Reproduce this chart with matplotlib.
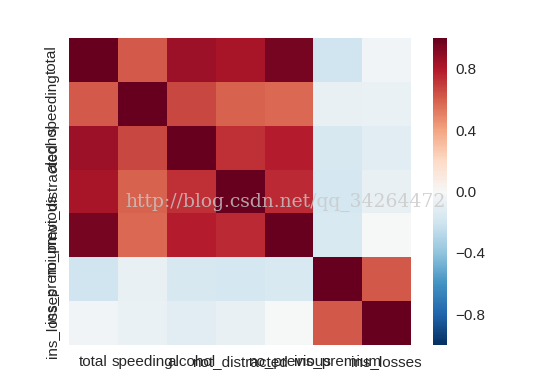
import numpy as np
import pandas as pd
import seaborn as sns
import matplotlib.pyplot as plt

labels = ['total', 'speeding', 'alcohol', 'not_distracted', 'no_previous',
          'ins_premium', 'ins_losses']

# correlation matrix (upper values, mirrored below)
total = [1.000, 0.612, 0.853, 0.828, 0.956, -0.200, -0.036]
speeding = [0.612, 1.000, 0.670, 0.588, 0.572, -0.078, -0.066]
alcohol = [0.853, 0.670, 1.000, 0.733, 0.784, -0.171, -0.113]
not_distracted = [0.828, 0.588, 0.733, 1.000, 0.747, -0.175, -0.076]
no_previous = [0.956, 0.572, 0.784, 0.747, 1.000, -0.157, -0.006]
ins_premium = [-0.200, -0.078, -0.171, -0.175, -0.157, 1.000, 0.623]
ins_losses = [-0.036, -0.066, -0.113, -0.076, -0.006, 0.623, 1.000]

corr = pd.DataFrame([total, speeding, alcohol, not_distracted, no_previous,
                     ins_premium, ins_losses], index=labels, columns=labels)

sns.set_style('white')
plt.rcParams['font.family'] = ['Liberation Sans', 'DejaVu Sans']

fig = plt.figure(figsize=(5.52, 3.83), dpi=100)
ax = fig.add_axes([0.125, 0.099, 0.62, 0.802])
cax = fig.add_axes([0.785, 0.099, 0.025, 0.802])

sns.heatmap(corr, ax=ax, cbar_ax=cax, cmap='RdBu_r', vmin=-1, vmax=1)

ax.tick_params(length=0, labelsize=11, colors='#262626', pad=7)
ax.set_xticklabels(labels, rotation=0)
ax.set_yticklabels(labels, rotation=90, va='center')
cax.tick_params(length=0, labelsize=11, colors='#262626', pad=6)
cax.set_yticks([-0.8, -0.4, 0.0, 0.4, 0.8])
cax.set_yticklabels(['\u22120.8', '\u22120.4', '0.0', '0.4', '0.8'])

fig.text(0.517, 0.473, 'http://blog.csdn.net/qq_34264472', family='DejaVu Serif',
         fontsize=13.5, color='#c8c8c8', alpha=0.8, ha='center', va='center')

fig.savefig('out.png', dpi=100)
